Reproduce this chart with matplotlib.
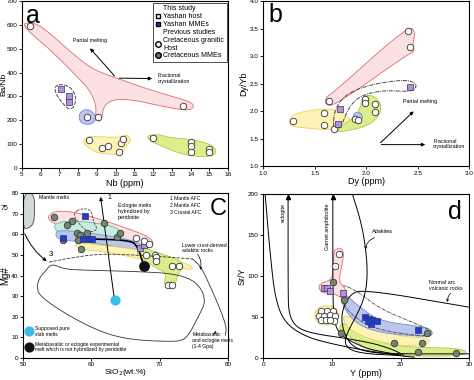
import numpy as np
import matplotlib.pyplot as plt
from matplotlib.patches import Polygon
from matplotlib.lines import Line2D

plt.rcParams['font.family'] = ['Liberation Sans', 'DejaVu Sans']

# ---- panel a : Nb vs Ba/Nb ----
a_host_nb = [5.43, 13.6, 9.07, 8.45, 8.6, 9.25, 9.6, 10.2, 10.3, 10.4, 12.0, 14.0, 14.0, 14.0, 15.0, 15.0]
a_host_banb = [596, 260, 215, 213, 117, 85, 94, 69, 106, 121, 124, 108, 94, 66, 79, 66]
a_mme_nb = [7.06, 7.52, 7.52]
a_mme_banb = [331, 304, 276]

a_pink = [(5.16, 610), (5.78, 607), (6.67, 553), (7.74, 476), (8.8, 413), (9.87, 382), (11.29, 342),
          (12.71, 307), (13.95, 279), (14.22, 258), (13.86, 239), (12.35, 261), (10.93, 286), (9.87, 289),
          (9.33, 258), (9.24, 194), (8.89, 201), (8.98, 258), (8.62, 328), (7.74, 399), (6.49, 497),
          (5.43, 568), (5.1, 596)]
a_blue = [(8.05, 230), (8.4, 248), (8.75, 238), (9.0, 205), (8.7, 183), (8.3, 183), (8.05, 200)]
a_dash = [(6.8, 345), (7.2, 352), (7.7, 332), (7.9, 290), (7.75, 252), (7.5, 246), (7.2, 268), (6.85, 305), (6.75, 330)]
a_yellow = [(8.3, 120), (8.6, 134), (9.3, 130), (10.2, 128), (10.6, 140), (10.85, 120), (10.5, 85),
            (10.3, 55), (9.8, 58), (9.0, 62), (8.6, 85), (8.3, 100)]
a_green = [(11.65, 135), (12.2, 142), (13.0, 126), (14.0, 120), (15.0, 102), (15.35, 80), (15.3, 52),
           (14.5, 46), (13.5, 58), (12.5, 90), (11.8, 115)]

# ---- panel b : Dy vs Dy/Yb ----
b_host_dy = [2.41, 2.43, 1.64, 1.59, 1.59, 1.29, 1.69, 1.89, 1.92, 1.99, 1.99, 2.09, 2.09]
b_host_dyyb = [3.46, 3.16, 2.19, 1.97, 1.74, 1.82, 1.68, 1.86, 1.84, 2.22, 2.14, 2.12, 1.98]
b_mme_dy = [1.75, 1.73, 2.43]
b_mme_dyyb = [2.03, 1.77, 2.43]

b_pink = [(1.61, 2.26), (1.66, 2.30), (2.40, 3.54), (2.48, 3.46), (2.45, 3.23), (2.47, 3.08),
          (2.40, 3.03), (1.69, 2.09), (1.60, 2.12)]
b_dash = [(1.68, 1.68), (1.69, 2.01), (1.79, 2.29), (2.01, 2.47), (2.34, 2.57), (2.47, 2.53), (2.49, 2.43),
          (2.43, 2.35), (2.17, 2.38), (1.95, 2.29), (1.83, 2.07), (1.77, 1.77), (1.71, 1.62)]
b_yellow = [(1.25, 1.82), (1.30, 1.95), (1.50, 2.03), (1.69, 2.04), (1.83, 1.89), (1.88, 1.72),
            (1.69, 1.65), (1.43, 1.69), (1.27, 1.72)]
b_green = [(1.66, 1.66), (1.82, 1.78), (1.94, 2.01), (1.96, 2.26), (2.05, 2.30), (2.14, 2.17),
           (2.14, 1.95), (2.05, 1.77), (1.92, 1.68), (1.75, 1.62)]
b_blue = [(1.87, 1.95), (1.93, 1.99), (1.97, 1.90), (1.95, 1.82), (1.88, 1.82)]

# ---- panel c : SiO2 vs Mg# ----
c_host_si = [66.6, 67.7, 68.5, 68.0, 69.3, 69.5, 69.5, 71.8, 72.9, 71.2, 71.8]
c_host_mg = [58.2, 56.9, 55.3, 50.1, 50.1, 48.8, 46.8, 44.8, 44.8, 35.5, 35.2]
c_gray_si = [54.6, 57.1, 56.4, 61.8, 57.9, 58.3, 59.3, 58.1, 55.9, 58.5, 63.7, 64.2]
c_gray_mg = [68.5, 66.6, 64.5, 65.6, 60.5, 59.6, 60.5, 57.2, 57.2, 52.7, 58.8, 60.5]
c_blue_si = [59.1, 55.8, 58.8, 59.6, 60.1]
c_blue_mg = [68.9, 58.3, 57.5, 57.5, 57.5]
c_purple_si = [67.1, 67.7]
c_purple_mg = [53.3, 54.9]
c_black = (67.7, 44.4)
c_cyan = (63.4, 27.9)

c_mantle = [(50, 80), (51.7, 80), (51.7, 68), (51.4, 64.5), (50.8, 63), (50, 62.5)]
c_pink = [(53.8, 69.5), (55, 71.5), (58, 70.5), (62, 66.5), (66, 62), (68.6, 58.5), (69.2, 55),
          (68.2, 53), (66, 55.5), (62, 59), (58, 62), (55, 64.5), (53.7, 67)]
c_teal = [(54.4, 64.5), (56, 66.5), (60, 66), (64.2, 63), (64.5, 58), (62, 57.2), (58, 58.5), (55, 61)]
c_dash = [(57.5, 70.5), (58.5, 72.5), (60, 72), (60.3, 66), (61, 62), (59.5, 61), (58.5, 64), (57.6, 68)]
c_blue = [(54.7, 61.2), (56, 62), (60, 60.5), (64, 58.5), (67, 56), (67.5, 53), (66, 52.5), (62, 55),
          (58, 56.5), (55, 57.5)]
c_yellow = [(57.5, 56), (62, 54.5), (66, 53), (70, 50), (75, 44.5), (74.5, 42.5), (70, 45.5),
            (66, 49), (62, 51.5), (58, 53)]
c_green = [(67.1, 54.0), (70.0, 50.8), (73.0, 47.5), (73.5, 44.3), (72.7, 41.1), (72.2, 34.6),
           (71.3, 33.3), (70.6, 36.2), (71.0, 41.1), (69.6, 43.5), (67.6, 47.5), (66.6, 50.8)]
c_inner = [(54.2, 45.9), (53.2, 41.8), (52.5, 39.4), (52.0, 34.6), (52.5, 29.7), (56.9, 20.0),
           (61.8, 12.0), (66.1, 8.7), (72.0, 7.9), (73.5, 8.7), (74.4, 12.0), (75.4, 18.4), (76.4, 24.9),
           (76.6, 28.1), (76.2, 33.0), (74.9, 37.8), (72, 41), (66, 42), (60, 42.5), (56, 43)]
c_top_dash = [(53.8, 46.5), (57, 48.5), (61, 50.5), (66, 50), (71, 49), (74.8, 48)]
c_right = [(74.8, 48), (76, 44.5), (77.3, 35.5), (79.0, 22.6), (79.8, 14.5), (79.6, 11)]
c_afc2 = [(58.5, 57.8), (65.7, 57.2), (66.8, 54), (67.6, 45.5)]

# ---- panel d : Y vs Sr/Y ----
d_host_y = [11.0, 10.45, 8.46, 9.33, 10.2, 8.1, 8.85, 9.7, 10.4, 8.46, 9.1, 10.3, 9.8]
d_host_sry = [127, 112.6, 56.9, 56.9, 56.9, 50.8, 50.8, 52, 50.8, 46.7, 46.7, 45.5, 46.7]
d_purple_y = [8.8, 9.3, 9.8, 11.6]
d_purple_sry = [86, 85.4, 82, 79.3]
d_gray_y = [10.2, 11.8, 11.3, 19.0, 23.1, 22.6, 28.1, 23.8]
d_gray_sry = [92.3, 71, 30.5, 18.3, 18.3, 7.3, 6.1, 30.5]
d_blue_y = [14.9, 15.4, 15.9, 15.7, 16.6, 15.3, 22.6]
d_blue_sry = [49.6, 47.6, 46.7, 41.5, 45.5, 44.7, 34.6]

d_left = [(0.3, 200), (1.07, 123), (1.8, 70.7), (3.2, 42.3), (6.2, 26), (9.6, 18), (14.4, 9.8), (20, 2.5), (22, 1)]
d_eclogite = [(3.64, 198), (3.64, 80), (3.74, 54.5), (4.7, 38), (7.1, 30), (12, 24), (16, 18), (19, 10), (20.5, 3)]
d_garnet = [(10.15, 198), (10.15, 80), (10.3, 42), (11.5, 26), (14.4, 13.8), (15.9, 9.8), (20, 3.5)]
d_adakite = [(13.0, 200), (14.3, 165), (15.0, 130), (15.2, 100), (14.8, 75), (13.8, 55), (12.5, 35),
             (11.8, 20), (12.5, 10), (15, 5), (20, 3)]
d_arc = [(30, 62), (14.6, 84), (12.5, 77), (11.3, 53), (11.8, 28.5), (13.2, 12.2), (16.1, 6), (20, 5), (30, 5)]
d_pink = [(10.55, 132), (11.2, 135), (11.8, 129), (11.4, 110), (11.0, 93.5), (12.0, 84.5), (12.25, 75),
          (11.4, 73), (10.3, 79), (8.6, 79), (8.0, 87), (8.6, 92), (10.05, 95.5), (10.2, 114), (10.3, 130)]
d_blue = [(11.3, 83), (14.2, 61), (17.1, 44.7), (22.9, 38.6), (24.6, 34.6), (24.6, 26.4), (22.7, 26.4),
          (17.1, 30.5), (13.7, 40.7), (11.5, 63)]
d_dash = [(11.0, 92), (14, 80), (17, 60), (22.5, 41), (24.3, 34), (24, 28), (22.5, 27), (17, 34),
          (14, 45), (11.5, 65)]
d_yellow = [(11.5, 55), (15, 40), (20, 26), (24, 25), (24.3, 17), (20, 14), (15, 24), (12, 38)]
d_green = [(11.5, 45), (15, 25), (20, 13), (29.5, 12), (29.5, 2), (20, 2.5), (15, 10), (12, 30), (11, 35)]
d_yell_ell = [(7.4, 52), (7.9, 61), (9.2, 64.5), (10.6, 62), (11.0, 52), (10.5, 42), (9.2, 40), (7.9, 43)]
d_green_ell = [(9.2, 52), (9.6, 59), (10.3, 60), (10.9, 55), (10.9, 47), (10.3, 43), (9.5, 45)]

PINK = ('#fbe1e1', '#e46a6a')
BLUE = ('#bcc6ec', '#7b8ad6')
YELLOW = ('#fdf3b6', '#f0cf55')
GREEN = ('#dcee8c', '#a8cc48')
TEAL = ('#c8ecdf', '#63bfa0')


def chaikin(pts, n=3, closed=True):
    p = np.asarray(pts, float)
    for _ in range(n):
        if closed:
            q = np.roll(p, -1, axis=0)
            a = 0.75 * p + 0.25 * q
            b = 0.25 * p + 0.75 * q
            p = np.empty((2 * len(a), 2))
            p[0::2] = a
            p[1::2] = b
        else:
            a = 0.75 * p[:-1] + 0.25 * p[1:]
            b = 0.25 * p[:-1] + 0.75 * p[1:]
            mid = np.empty((2 * len(a), 2))
            mid[0::2] = a
            mid[1::2] = b
            p = np.vstack([p[:1], mid, p[-1:]])
    return p


def field(ax, pts, colors=None, ls='-', lw=0.6, ec=None, z=1):
    xy = chaikin(pts)
    fc = colors[0] if colors else 'none'
    edge = ec if ec else (colors[1] if colors else 'k')
    ax.add_patch(Polygon(xy, closed=True, fc=fc, ec=edge, lw=lw, ls=ls, zorder=z))


def curve(ax, pts, ls='-', lw=0.7, color='k', z=2):
    xy = chaikin(pts, closed=False)
    ax.plot(xy[:, 0], xy[:, 1], ls=ls, lw=lw, color=color, zorder=z)


def host(ax, x, y):
    ax.scatter(x, y, s=22, marker='o', fc='white', ec='#333333', lw=0.6, zorder=5)


def mme(ax, x, y, c='#b68fd6'):
    ax.scatter(x, y, s=20, marker='s', fc=c, ec='#333366', lw=0.5, zorder=5)


def gray(ax, x, y):
    ax.scatter(x, y, s=22, marker='o', fc='#758575', ec='#2f3a2f', lw=0.6, zorder=5)


def style(ax):
    ax.tick_params(labelsize=4.6, length=2, width=0.6, pad=1.2)
    for s in ax.spines.values():
        s.set_linewidth(0.8)


fig = plt.figure(figsize=(4.74, 3.8), dpi=100)
ax_a = fig.add_axes([0.0464, 0.558, 0.435, 0.439])
ax_b = fig.add_axes([0.555, 0.563, 0.435, 0.434])
ax_c = fig.add_axes([0.0485, 0.058, 0.4325, 0.434])
ax_d = fig.add_axes([0.555, 0.058, 0.435, 0.431])

# panel a
ax = ax_a
field(ax, a_pink, PINK)
field(ax, a_blue, BLUE)
field(ax, a_dash, None, ls=(0, (4, 1.5)), ec='#444444', lw=0.7)
field(ax, a_yellow, YELLOW)
field(ax, a_green, GREEN)
host(ax, a_host_nb, a_host_banb)
mme(ax, a_mme_nb, a_mme_banb)
ax.annotate('', xy=(8.53, 511), xytext=(10.04, 377),
            arrowprops=dict(arrowstyle='-|>', lw=0.7, color='k', mutation_scale=5))
ax.annotate('', xy=(12.09, 375), xytext=(10.04, 377),
            arrowprops=dict(arrowstyle='-|>', lw=0.7, color='k', mutation_scale=5))
ax.text(7.7, 530, 'Partial melting', fontsize=3.8)
ax.text(12.25, 375, 'Fractional\ncrystallization', fontsize=3.8, va='center')
ax.text(5.2, 690, 'a', fontsize=18, va='top')
ax.set_xlim(5, 16)
ax.set_ylim(0, 700)
ax.set_xticks(range(5, 17))
ax.set_yticks(range(0, 701, 100))
ax.set_xlabel('Nb (ppm)', fontsize=6.5, labelpad=1)
ax.set_ylabel('Ba/Nb', fontsize=6, labelpad=1)
ax.yaxis.set_label_coords(-0.07, 0.5)
style(ax)
handles = [Line2D([], [], ls='none'),
           Line2D([], [], ls='none', marker='s', mfc='white', mec='k', ms=3.5),
           Line2D([], [], ls='none', marker='s', mfc='#1c3fd0', mec='k', ms=3.5),
           Line2D([], [], ls='none'),
           Line2D([], [], ls='none', marker='o', mfc='white', mec='k', ms=4),
           Line2D([], [], ls='none', marker='o', mfc='#707070', mec='k', ms=4)]
labels = ['This study', 'Yashan host', 'Yashan MMEs', 'Previous studies',
          'Cretaceous granitic\nHost', 'Cretaceous MMEs']
leg = ax.legend(handles, labels, loc='upper right', fontsize=5, frameon=True, fancybox=False,
                edgecolor='k', handlelength=0.6, handletextpad=0.5, borderpad=0.4,
                labelspacing=0.12, borderaxespad=0.2)
leg.get_frame().set_linewidth(0.6)

# panel b
ax = ax_b
field(ax, b_pink, PINK)
field(ax, b_yellow, YELLOW)
field(ax, b_green, GREEN)
field(ax, b_dash, None, ls=(0, (4, 1, 1, 1)), ec='#444444', lw=0.7)
field(ax, b_blue, BLUE)
host(ax, b_host_dy, b_host_dyyb)
mme(ax, b_mme_dy, b_mme_dyyb)
ax.annotate('', xy=(2.48, 2.03), xytext=(2.12, 1.39),
            arrowprops=dict(arrowstyle='-|>', lw=0.7, color='k', mutation_scale=5))
ax.annotate('', xy=(2.60, 1.39), xytext=(2.12, 1.39),
            arrowprops=dict(arrowstyle='-|>', lw=0.7, color='k', mutation_scale=5))
ax.text(2.36, 2.15, 'Partial melting', fontsize=3.8)
ax.text(2.65, 1.40, 'Fractional\ncrystallization', fontsize=3.8, va='center')
ax.text(1.05, 3.97, 'b', fontsize=18, va='top')
ax.set_xlim(1.0, 3.0)
ax.set_ylim(1.0, 4.0)
ax.set_xticks(np.arange(1.0, 3.01, 0.5))
ax.set_yticks(np.arange(1.0, 4.01, 0.5))
ax.set_xlabel('Dy (ppm)', fontsize=6.5, labelpad=1)
ax.set_ylabel('Dy/Yb', fontsize=6.5, labelpad=1)
style(ax)

# panel c
ax = ax_c
field(ax, c_mantle, ('#d3dad6', '#444444'), lw=0.6)
field(ax, c_pink, PINK)
field(ax, c_teal, TEAL)
field(ax, c_blue, BLUE)
field(ax, c_yellow, YELLOW)
field(ax, c_green, GREEN)
field(ax, c_dash, None, ls=(0, (3, 1.5)), ec='#444444', lw=0.6)
field(ax, c_inner, None, ec='#333333', lw=0.6)
curve(ax, c_top_dash, ls=(0, (4, 1.5)), lw=0.6, color='#333333')
curve(ax, c_right, lw=0.6, color='#333333')
curve(ax, c_afc2, lw=1.2, color='k', z=3)
gray(ax, c_gray_si, c_gray_mg)
mme(ax, c_blue_si, c_blue_mg, c='#1c3fd0')
mme(ax, c_purple_si, c_purple_mg)
host(ax, c_host_si, c_host_mg)
ax.scatter(*c_black, s=45, c='#111111', zorder=6)
ax.scatter(*c_cyan, s=40, c='#3cbde6', zorder=6)
ax.annotate('', xy=(61.3, 79.5), xytext=c_cyan,
            arrowprops=dict(arrowstyle='-|>', lw=0.7, color='k', mutation_scale=5))
ax.annotate('', xy=(53.8, 46.2), xytext=(50.1, 61.5),
            arrowprops=dict(arrowstyle='-|>', lw=0.7, color='k', mutation_scale=5,
                            connectionstyle='arc3,rad=0.15'))
ax.annotate('', xy=(75.8, 41.5), xytext=(75.3, 51.5),
            arrowprops=dict(arrowstyle='->', lw=0.5, color='k', mutation_scale=4,
                            connectionstyle='arc3,rad=-0.3'))
ax.annotate('', xy=(78.2, 14.5), xytext=(77.6, 10.5),
            arrowprops=dict(arrowstyle='->', lw=0.5, color='k', mutation_scale=4,
                            connectionstyle='arc3,rad=0.3'))
ax.text(62.3, 77, '1', fontsize=5)
ax.text(53.7, 49.5, '3', fontsize=5.5)
ax.text(52.3, 77.8, 'Mantle melts', fontsize=3.8, va='center')
ax.text(71.5, 78.5, '1 Mantle AFC\n2 Mantle AFC\n3 Crustal AFC', fontsize=3.6, va='top', linespacing=1.5)
ax.text(78.6, 72.5, 'C', fontsize=17, ha='center', va='center')
ax.text(63.9, 75, 'Eclogite melts\nhybridized by\nperidotite', fontsize=3.8, va='top')
ax.text(73.3, 56, 'Lower crust-derived\nadakitic rocks', fontsize=3.6, va='top')
ax.scatter(50.9, 12.9, s=40, c='#3cbde6', clip_on=False, zorder=6)
ax.scatter(50.9, 5.3, s=40, c='#111111', clip_on=False, zorder=6)
ax.text(51.8, 12.9, 'Supposed pure\nslab melts', fontsize=3.6, va='center')
ax.text(51.8, 5.3, 'Metabasaltic or eclogite experimental\nmelt which is not hybridized by peridotite',
        fontsize=3.6, va='center')
ax.text(74.8, 8.5, 'Metabasaltic\nand eclogite melts\n(1-4 Gpa)', fontsize=3.6, va='center')
ax.set_xlim(50, 80)
ax.set_ylim(0, 80)
ax.set_xticks([50, 60, 70, 80])
ax.set_yticks(range(0, 81, 10))
ax.set_xlabel('SiO$_2$(wt.%)', fontsize=6, labelpad=1)
ax.xaxis.set_label_coords(0.5, -0.052)
ax.set_ylabel('Mg#', fontsize=7, labelpad=1)
style(ax)
fig.text(0.002, 1 - 208 / 380, '75', fontsize=5, va='center')

# panel d
ax = ax_d
field(ax, d_green, GREEN)
field(ax, d_yellow, YELLOW)
field(ax, d_blue, BLUE)
field(ax, d_dash, None, ls=(0, (4, 1, 1, 1)), ec='#444444', lw=0.6)
field(ax, d_pink, PINK)
field(ax, d_yell_ell, YELLOW)
field(ax, d_green_ell, ('#e6f3b0', '#a8cc48'))
curve(ax, d_left)
curve(ax, d_eclogite)
curve(ax, d_garnet)
curve(ax, d_adakite)
curve(ax, d_arc)
ax.plot([d_eclogite[0][0], d_garnet[0][0]], [197, 197], ls='none', marker='^', ms=3, color='k', zorder=3)
gray(ax, d_gray_y, d_gray_sry)
mme(ax, d_purple_y, d_purple_sry)
mme(ax, d_blue_y, d_blue_sry, c='#1c3fd0')
host(ax, d_host_y, d_host_sry)
ax.text(2.9, 178, 'eclogite', fontsize=4, rotation=90, ha='center', va='center')
ax.text(9.4, 160, 'Garnet amphibolite', fontsize=4, rotation=90, ha='center', va='center')
ax.text(15.9, 152, 'Adakites', fontsize=4)
ax.annotate('', xy=(14.9, 129), xytext=(16.6, 148),
            arrowprops=dict(arrowstyle='->', lw=0.5, color='k', mutation_scale=4,
                            connectionstyle='arc3,rad=0.4'))
ax.text(24.2, 88, 'Normal arc\nvolcanic rocks', fontsize=3.8, va='center')
ax.annotate('', xy=(27.0, 65), xytext=(27.6, 81),
            arrowprops=dict(arrowstyle='->', lw=0.5, color='k', mutation_scale=4,
                            connectionstyle='arc3,rad=0.4'))
ax.text(28.9, 178, 'd', fontsize=18, ha='right', va='center')
ax.set_xlim(0, 30)
ax.set_ylim(0, 200)
ax.set_xticks([0, 10, 20, 30])
ax.set_yticks(range(0, 201, 50))
ax.set_xlabel('Y (ppm)', fontsize=6.5, labelpad=1)
ax.set_ylabel('Sr/Y', fontsize=6.5, labelpad=1)
style(ax)

fig.savefig('out.png', dpi=100)
